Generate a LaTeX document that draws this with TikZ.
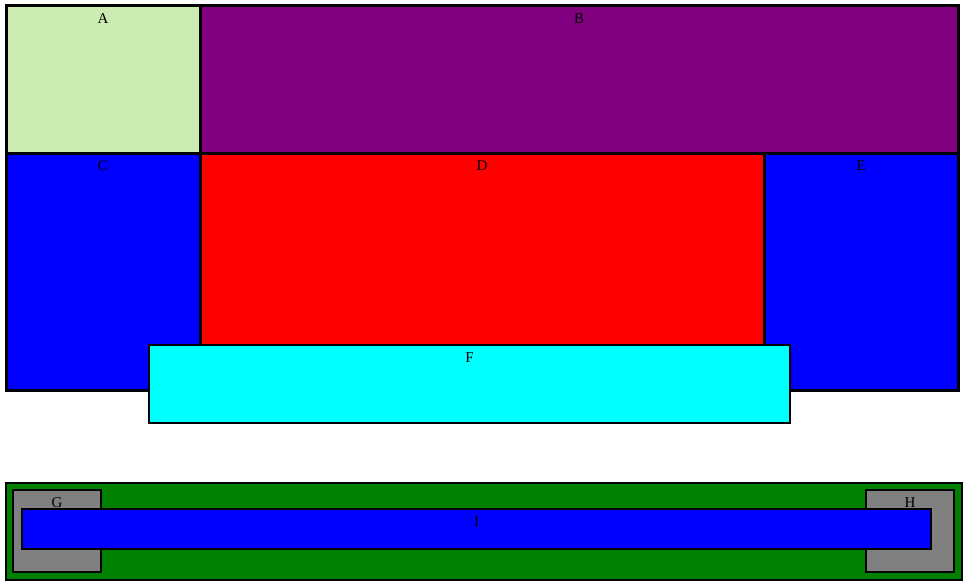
\documentclass[tikz,border=0pt]{standalone}
\usepackage{fontspec}
\setmainfont{Liberation Serif}
\definecolor{lightgreen}{RGB}{204,235,176}
\definecolor{darkgreen}{RGB}{0,128,0}
\definecolor{plum}{RGB}{128,0,128}
\definecolor{aqua}{RGB}{0,255,255}
\tikzset{
  box/.style={draw, rectangle, inner sep=0pt, line width=3pt},
  thinbox/.style={draw, rectangle, inner sep=0pt, line width=2pt},
  lab/.style={anchor=north, inner sep=0pt, yshift=-8.5pt, font=\fontsize{15}{17}\selectfont}
}
\begin{document}
\begin{tikzpicture}[x=1pt,y=-1pt]
\useasboundingbox (0,0) rectangle (967,586);
% Top row
\node [box, fill=lightgreen,
    minimum width=194pt, minimum height=147pt,
    label={[lab]north:A}] (A) at (103,79.5){};
\node [box, fill=plum,
    minimum width=758pt, minimum height=147pt,
    label={[lab]north:B}] (B) at (579,79.5){};

% Middle row
\node [box, fill=blue,
    minimum width=194pt, minimum height=237pt,
    label={[lab]north:C}] (C) at (103,271.5){};
\node [box, fill=red,
    minimum width=564pt, minimum height=192pt,
    label={[lab]north:D}] (D) at (482,249){};
\node [box, fill=blue,
    minimum width=194pt, minimum height=237pt,
    label={[lab]north:E}] (E) at (861,271.5){};

% Overlapping box
\node [thinbox, fill=aqua,
    minimum width=641pt, minimum height=78pt,
    label={[lab]north:F}] (F) at (469.5,384){};

% Bottom strip
\node [thinbox, fill=darkgreen,
    minimum width=956pt, minimum height=97pt] (base) at (484,531.5){};
\node [thinbox, fill=gray,
    minimum width=88pt, minimum height=82pt,
    label={[lab]north:G}] (G) at (57,531){};
\node [thinbox, fill=gray,
    minimum width=88pt, minimum height=82pt,
    label={[lab]north:H}] (H) at (910,531){};
\node [thinbox, fill=blue,
    minimum width=909pt, minimum height=40pt,
    label={[lab]north:I}] (I) at (476.5,529){};
\end{tikzpicture}
\end{document}
